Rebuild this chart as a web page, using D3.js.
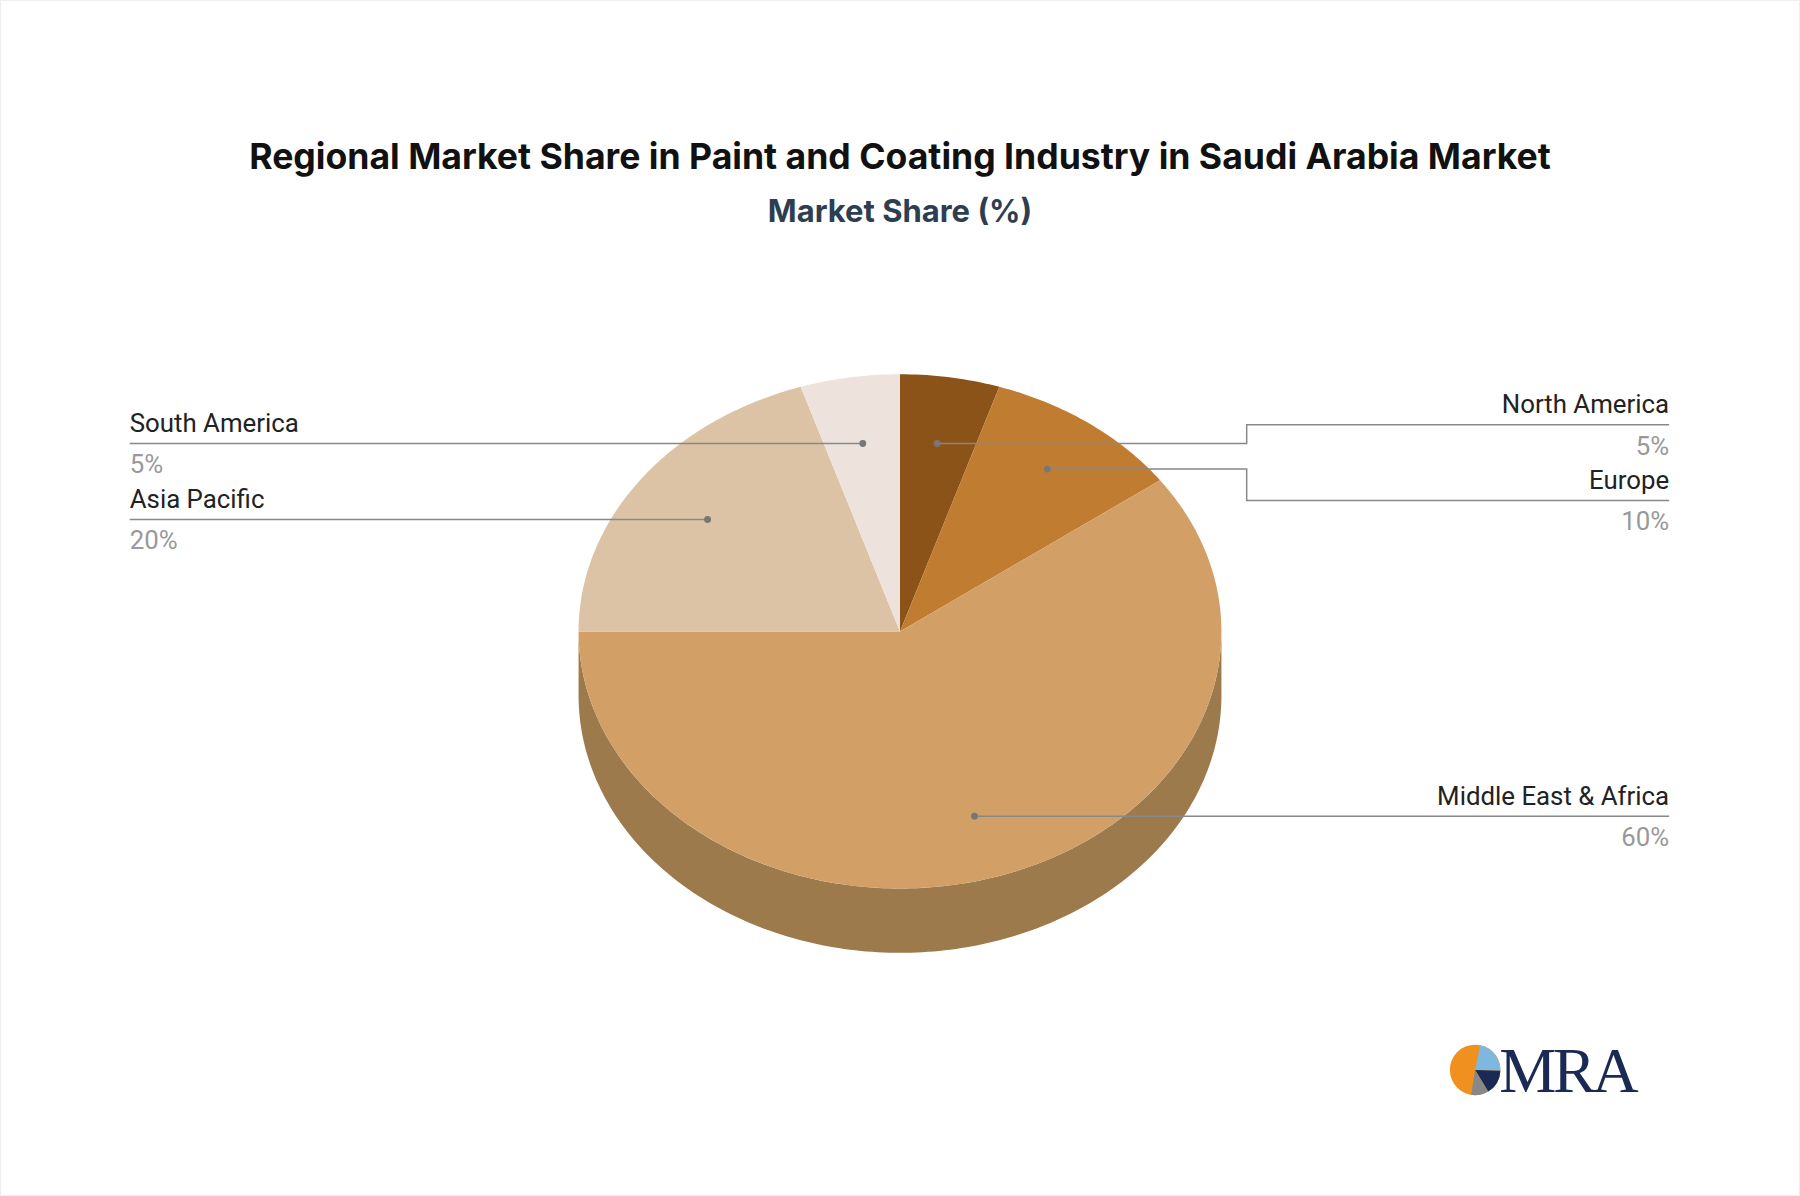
<!DOCTYPE html>
<html><head><meta charset="utf-8">
<script src="https://cdn.jsdelivr.net/npm/d3@7"></script>
<style>body{margin:0;background:#fff}</style></head>
<body><script>
const regions = ["North America", "Europe", "Middle East & Africa", "Asia Pacific", "South America"];
const shares = [5, 10, 60, 20, 5];
const colors = ["#8B5317", "#C07C30", "#D2A067", "#DDC3A5", "#EDE3DC"];
const sideColor = "#9C7A4C";

const W = 1800, H = 1196, s = W / 1568;
const svg = d3.select("body").append("svg").attr("width", W).attr("height", H);
svg.append("rect").attr("x", 0.5).attr("y", 0.5).attr("width", W - 1).attr("height", H - 1)
  .attr("fill", "#fff").attr("stroke", "#eee");
const g = svg.append("g").attr("transform", `scale(${s})`);

g.append("text").attr("x", 784).attr("y", 147).attr("text-anchor", "middle")
  .attr("font-family", "Inter, Roboto, sans-serif").attr("font-weight", 700).attr("font-size", 31)
  .attr("fill", "#111").text("Regional Market Share in Paint and Coating Industry in Saudi Arabia Market");
g.append("text").attr("x", 784).attr("y", 193).attr("text-anchor", "middle")
  .attr("font-family", "Inter, Roboto, sans-serif").attr("font-weight", 700).attr("font-size", 27)
  .attr("fill", "#2d3e50").text("Market Share (%)");

const cx = 784, cy = 550, rx = 280, ry = 224, depth = 56;
const pt = (a, k = 1) => [cx + rx * k * Math.sin(a), cy - ry * k * Math.cos(a)];
const pie = d3.pie().sort(null).value(d => d)(shares);

// side (front, 90deg..270deg)
const sideArc = d3.range(0, 181).map(i => pt(Math.PI / 2 + i * Math.PI / 180));
const sidePath = d3.path();
sidePath.moveTo(...sideArc[0]);
sideArc.forEach(p => sidePath.lineTo(p[0], p[1] + depth));
[...sideArc].reverse().forEach(p => sidePath.lineTo(p[0], p[1]));
sidePath.closePath();
g.append("path").attr("d", sidePath.toString()).attr("fill", sideColor);

pie.forEach((d, i) => {
  const n = Math.max(2, Math.ceil((d.endAngle - d.startAngle) * 60));
  const pts = d3.range(n + 1).map(j => pt(d.startAngle + (d.endAngle - d.startAngle) * j / n));
  g.append("path").attr("d", "M" + cx + "," + cy + "L" + pts.map(p => p.join(",")).join("L") + "Z")
    .attr("fill", colors[i]);
});

// labels
const labelY = [370, 436, 711, 455, 387];
const dotK = [0.74, 0.78, 0.75, 0.74, 0.74];
const rightX = 1454, leftX = 113, elbowX = 1086;
pie.forEach((d, i) => {
  const m = (d.startAngle + d.endAngle) / 2;
  const [px, py] = pt(m, dotK[i]);
  const right = m < Math.PI;
  const ly = labelY[i];
  let pts;
  if (right) pts = Math.abs(ly - py) > 6 ? [[px, py], [elbowX, py], [elbowX, ly], [rightX, ly]] : [[px, ly], [rightX, ly]];
  else pts = [[px, py], [leftX, py]];
  const yy = pts[pts.length - 1][1];
  const dy = pts[0][1];
  g.append("path").attr("d", d3.line()(pts)).attr("fill", "none").attr("stroke", "#888").attr("stroke-width", 1.3);
  g.append("circle").attr("cx", px).attr("cy", dy).attr("r", 3).attr("fill", "#777");
  const tx = right ? rightX : leftX, anchor = right ? "end" : "start";
  g.append("text").attr("x", tx).attr("y", yy - 10).attr("text-anchor", anchor)
    .attr("font-family", "Roboto, sans-serif").attr("font-size", 22.5).attr("fill", "#222").text(regions[i]);
  g.append("text").attr("x", tx).attr("y", yy + 26).attr("text-anchor", anchor)
    .attr("font-family", "Roboto, sans-serif").attr("font-size", 22.5).attr("fill", "#999").text(shares[i] + "%");
});

// logo
const lg = g.append("g").attr("transform", "translate(1285,932)");
lg.append("circle").attr("r", 22).attr("fill", "#F0901E");
lg.append("path").attr("d", d3.arc().innerRadius(0).outerRadius(22).startAngle(0.2).endAngle(1.6)()).attr("fill", "#7FB8DE");
lg.append("path").attr("d", d3.arc().innerRadius(0).outerRadius(22).startAngle(1.6).endAngle(2.6)()).attr("fill", "#1B2A55");
lg.append("path").attr("d", d3.arc().innerRadius(0).outerRadius(22).startAngle(2.6).endAngle(3.3)()).attr("fill", "#888");
g.append("text").attr("x", 1306).attr("y", 951).attr("font-family", "Liberation Serif, serif")
  .attr("font-size", 56).attr("fill", "#1B2A55").attr("letter-spacing", -3).text("MRA");
</script></body></html>
